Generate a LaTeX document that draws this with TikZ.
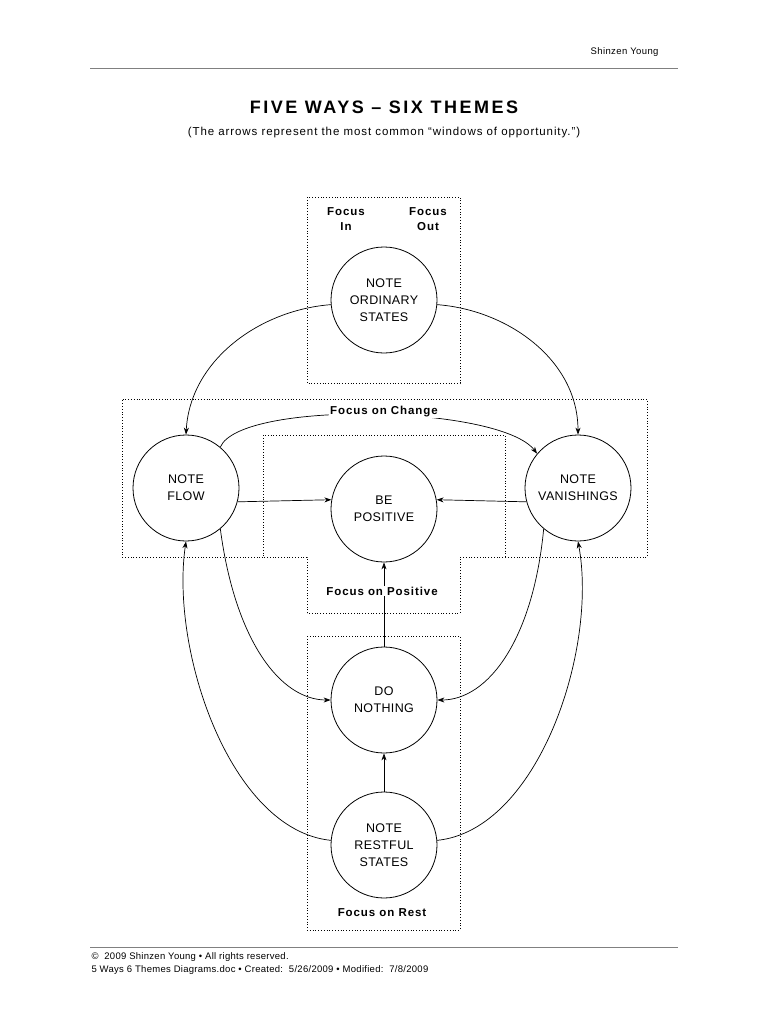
\documentclass[tikz,border=0pt]{standalone}
\usepackage{fontspec}
\setmainfont{Liberation Sans}
\usetikzlibrary{arrows.meta}
\begin{document}
\begin{tikzpicture}[x=1pt,y=-1pt,
  st/.style={circle,draw,line width=0.8pt,minimum size=106pt,align=center,font=\fontsize{12.5}{17}\selectfont\addfontfeatures{LetterSpace=3},inner sep=0pt},
  box/.style={dotted,line width=0.8pt},
  lab/.style={font=\bfseries\fontsize{11.5}{15}\selectfont\addfontfeatures{LetterSpace=8},align=center,fill=white,inner sep=1pt},
  ar/.style={-{Stealth[length=7pt,width=5pt]},line width=0.7pt}]
\useasboundingbox (0,0) rectangle (768,1024);
\fill[white] (0,0) rectangle (768,1024);
\node[anchor=east,font=\fontsize{9.5}{11}\selectfont\addfontfeatures{LetterSpace=4}] (hdr) at (662,52) {Shinzen Young};
\draw[gray,line width=0.5pt] (90,68) -- (678,68);
\node[font=\bfseries\fontsize{18}{20}\selectfont\addfontfeatures{LetterSpace=14}] (title) at (384,107) {FIVE WAYS – SIX THEMES};
\node[font=\fontsize{11.5}{13}\selectfont\addfontfeatures{LetterSpace=8}] (sub) at (384,133) {(The arrows represent the most common “windows of opportunity.”)};
% boxes
\draw[box] (307,197) rectangle (460,383);
\draw[box] (263,557) -- (122,557) -- (122,399) -- (647,399) -- (647,557) -- (505,557);
\draw[box] (307,613) -- (307,557) -- (263,557) -- (263,435) -- (505,435) -- (505,557) -- (460,557) -- (460,613) -- cycle;
\draw[box] (307,636) rectangle (460,930);
% states
\node[st] (ord) at (384,300) {NOTE\\ORDINARY\\STATES};
\node[st] (flow) at (186,488) {NOTE\\FLOW};
\node[st] (pos) at (384,509) {BE\\POSITIVE};
\node[st] (van) at (578,488) {NOTE\\VANISHINGS};
\node[st] (dn) at (384,700) {DO\\NOTHING};
\node[st] (rest) at (384,845) {NOTE\\RESTFUL\\STATES};
% arrows
\draw[ar] (ord.185) .. controls (260,310) and (190,360) .. (flow.north);
\draw[ar] (ord.-5) .. controls (508,310) and (578,360) .. (van.north);
\draw[ar] (flow.50) .. controls (240,400) and (500,405) .. (van.140);
\draw[ar] (flow.-15) -- (pos.170);
\draw[ar] (van.195) -- (pos.10);
\draw[ar] (flow.-50) .. controls (235,640) and (280,700) .. (dn.west);
\draw[ar] (van.230) .. controls (533,640) and (488,700) .. (dn.east);
\draw[ar] (dn.north) -- (pos.south);
\draw[ar] (rest.north) -- (dn.south);
\draw[ar] (rest.175) .. controls (230,830) and (170,650) .. (flow.south);
\draw[ar] (rest.5) .. controls (538,830) and (598,650) .. (van.south);
% labels
\node[lab] (fin) at (346,219) {Focus\\In};
\node[lab] (fout) at (428,219) {Focus\\Out};
\node[lab] (fch) at (384,412) {Focus on Change};
\node[lab] (fpos) at (382,591) {Focus on Positive};
\node[lab] (frest) at (382,913) {Focus on Rest};
% footer
\draw[gray,line width=0.5pt] (90,947) -- (678,947);
\node[anchor=west,font=\fontsize{9.5}{11}\selectfont\addfontfeatures{LetterSpace=3}] (f1) at (88,957) {©\ \ 2009 Shinzen Young • All rights reserved.};
\node[anchor=west,font=\fontsize{9.5}{11}\selectfont\addfontfeatures{LetterSpace=3}] (f2) at (88,970) {5 Ways 6 Themes Diagrams.doc • Created:\ \ 5/26/2009 • Modified:\ \ 7/8/2009};
\end{tikzpicture}
\end{document}
